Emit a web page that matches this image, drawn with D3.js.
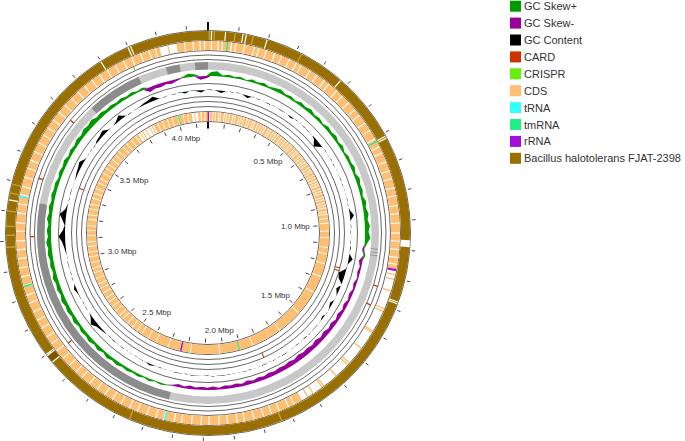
<!DOCTYPE html>
<html>
<head>
<meta charset="utf-8">
<script src="https://cdn.jsdelivr.net/npm/d3@7"></script>
<style>
  body { margin: 0; background: #fff; }
  text { font-family: Arial, "Liberation Sans", sans-serif; }
</style>
</head>
<body>
<svg id="map" width="685" height="441"></svg>
<script>
// genome length in Mbp, GC windows of 25 kb
var genomeLength = 4.17;
var windowSize = 0.025;

var legendNames = ["GC Skew+", "GC Skew-", "GC Content", "CARD", "CRISPR", "CDS", "tRNA", "tmRNA", "rRNA", "Bacillus halotolerans FJAT-2398"];
var legendColors = ["#009900", "#990099", "#000000", "#cc3300", "#66ee11", "#ffbf73", "#33ffff", "#22ee88", "#a010d8", "#997000"];

var tickLabels = ["0.5 Mbp", "1.0 Mbp", "1.5 Mbp", "2.0 Mbp", "2.5 Mbp", "3.0 Mbp", "3.5 Mbp", "4.0 Mbp"];
var tickLabelPositions = [0.5, 1.0, 1.5, 2.0, 2.5, 3.0, 3.5, 4.0];

// Bacillus halotolerans FJAT-2398 ring
var brownGaps = [0.0116, 0.058, 0.116, 0.127, 0.197, 0.475, 0.711, 0.718, 1.274, 1.28, 2.668, 2.695, 2.70, 3.237, 3.799, 3.90, 3.909];
var brownWideGaps = [[1.066, 1.089]];
var brownDark = [[2.670, 2.693]];
var brownLight = [0.004, 0.021, 0.09, 0.15, 0.32, 1.837, 2.35, 3.08, 3.12, 3.15, 3.20, 3.26, 3.29];

// CDS forward strand (outer)
var outerCdsSpans = [[0.000, 1.170], [1.745, 4.000], [4.060, 4.170]];
var outerCdsStripes = [1.188, 1.205, 1.246, 1.312, 1.322, 1.398, 1.404, 1.470, 1.536, 1.545, 1.600, 1.655, 1.662, 1.700, 1.722, 4.030];
var outerCdsGaps = [0.012, 0.036, 0.05, 0.082, 0.097, 0.128, 0.162, 0.178, 0.205, 0.236, 0.262, 0.291, 0.318, 0.337, 0.372, 0.401,
  0.433, 0.452, 0.488, 0.515, 0.547, 0.579, 0.604, 0.637, 0.668, 0.702, 0.733, 0.756, 0.79, 0.823, 0.851, 0.884, 0.912, 0.947,
  0.975, 1.008, 1.043, 1.071, 1.1, 1.128, 1.152, 1.776, 1.797, 1.832, 1.861, 1.889, 1.924, 1.958, 1.983, 2.017, 2.046, 2.081,
  2.109, 2.142, 2.177, 2.203, 2.24, 2.268, 2.301, 2.336, 2.365, 2.398, 2.431, 2.462, 2.494, 2.527, 2.561, 2.589, 2.622, 2.655,
  2.688, 2.719, 2.748, 2.783, 2.814, 2.846, 2.879, 2.908, 2.943, 2.974, 3.006, 3.038, 3.069, 3.1, 3.134, 3.163, 3.197, 3.229,
  3.262, 3.291, 3.324, 3.357, 3.386, 3.419, 3.452, 3.484, 3.513, 3.546, 3.579, 3.611, 3.644, 3.675, 3.706, 3.739, 3.771, 3.802,
  3.834, 3.867, 3.898, 3.931, 3.962, 3.985, 4.088, 4.118, 4.142, 4.158];

// CDS reverse strand (inner)
var innerCdsSpans = [[0.000, 3.760], [3.860, 4.080], [4.115, 4.170]];
var innerCdsStripes = [3.775, 3.79, 3.81, 3.835, 3.85, 4.096];
var innerCdsGaps = [0.008, 0.027, 0.041, 0.06, 0.07, 0.091, 0.104, 0.119, 0.14, 0.152, 0.173, 0.186, 0.201, 0.221, 0.234, 0.254,
  0.266, 0.285, 0.301, 0.318, 0.331, 0.352, 0.364, 0.383, 0.398, 0.412, 0.432, 0.447, 0.464, 0.48, 0.497, 0.51, 0.53, 0.545, 0.559,
  0.579, 0.594, 0.612, 0.626, 0.641, 0.661, 0.676, 0.69, 0.71, 0.725, 0.743, 0.758, 0.772, 0.792, 0.807, 0.821, 0.842, 0.856,
  0.874, 0.889, 0.903, 0.924, 0.938, 0.962, 0.988, 1.032, 1.068, 1.122, 1.158, 1.213, 1.288, 1.382, 1.521, 1.664, 1.832, 2.021,
  2.183, 2.309, 2.382, 2.428, 2.471, 2.502, 2.534, 2.568, 2.603, 2.629, 2.662, 2.693, 2.724, 2.751, 2.783, 2.812, 2.838, 2.871,
  2.903, 2.929, 2.962, 2.994, 3.021, 3.053, 3.078, 3.113, 3.142, 3.168, 3.203, 3.229, 3.262, 3.288, 3.322, 3.351, 3.379, 3.413,
  3.438, 3.472, 3.503, 3.528, 3.562, 3.591, 3.618, 3.652, 3.679, 3.712, 3.743, 3.884, 3.912, 3.941, 3.968, 4.002, 4.031, 4.058,
  4.131, 4.152];

// RNA and other features
var outerTrna = [2.236, 3.255];
var outerTmrna = [0.068, 0.712, 2.94];
var outerRrna = [1.172];
var innerTmrna = [1.91, 4.005];
var innerRrna = [0.002, 2.236];
var crisprMarks = [3.89];
var cardOuter = [1.245, 1.319, 2.685, 3.114, 3.335, 3.583];
var cardInner = [1.215, 1.228, 1.805, 3.349];

// grey band, dark segments
var grayDark = [[1.105, 1.108], [1.118, 1.121], [1.130, 1.133], [2.238, 3.243], [3.672, 3.892], [4.005, 4.059], [4.119, 4.170]];

var gcSkew = [
  0.05, 0.065, 0.015, 0.035, 0.015, 0.03, 0.01, 0.035, 0.02, 0.04,
  0.02, 0.035, 0.05, 0.025, 0.04, 0.02, 0.045, 0.03, 0.05, 0.025,
  0.04, 0.02, 0.045, 0.03, 0.05, 0.025, 0.045, 0.02, 0.04, 0.03,
  0.05, 0.025, 0.055, 0.035, 0.045, 0.025, 0.055, 0.035, 0.06, 0.04,
  0.065, 0.045, 0.07, 0.03, -0.025, 0.025, -0.045, -0.02, -0.035, -0.015,
  -0.04, -0.02, -0.045, -0.025, -0.05, -0.03, -0.055, -0.035, -0.06, -0.04,
  -0.065, -0.045, -0.07, -0.05, -0.065, -0.055, -0.07, -0.05, -0.065, -0.05,
  -0.06, -0.045, -0.06, -0.04, -0.055, -0.035, -0.055, -0.03, -0.05, -0.035,
  -0.045, -0.025, -0.045, -0.03, -0.04, -0.025, -0.045, -0.02, -0.04, -0.015,
  0.01, 0.025, 0.01, 0.03, 0.015, 0.035, 0.02, 0.04, 0.025, 0.045,
  0.03, 0.05, 0.025, 0.05, 0.03, 0.055, 0.035, 0.05, 0.03, 0.055,
  0.035, 0.055, 0.04, 0.06, 0.035, 0.055, 0.04, 0.06, 0.035, 0.055,
  0.04, 0.06, 0.045, 0.065, 0.04, 0.055, 0.035, 0.06, 0.04, 0.055,
  0.035, 0.055, 0.04, 0.05, 0.03, 0.05, 0.035, 0.055, 0.03, 0.05,
  0.035, 0.055, 0.04, 0.065, 0.05, 0.07, 0.045, 0.055, 0.035, 0.045,
  0.03, 0.045, 0.025, 0.04, 0.02, 0.03, -0.06, -0.04, -0.05, -0.03,
  -0.045, -0.02, 0.015, 0.045, 0.03, -0.045, -0.03];

var gcContent = [
  0.006, -0.006, -0.03, 0.003, -0.006, 0.006, -0.003, -0.03, 0.006, -0.006,
  0.003, -0.009, 0.006, -0.003, -0.006, 0.003, -0.02, 0.006, -0.003, 0.006,
  -0.006, 0.003, -0.02, -0.08, -0.006, 0.006, -0.003, 0.006, -0.006, 0.003,
  -0.003, 0.006, -0.006, 0.003, -0.003, 0.006, -0.006, 0.009, 0.05, -0.003,
  0.006, -0.006, 0.003, -0.006, 0.009, -0.003, 0.05, 0.006, -0.009, -0.08,
  -0.06, 0.006, -0.04, -0.006, 0.003, -0.03, -0.006, 0.006, -0.02, 0.003,
  -0.006, -0.003, 0.006, -0.009, 0.003, -0.006, 0.003, -0.003, 0.006, -0.006,
  0.003, -0.006, 0.006, -0.003, 0.003, -0.006, 0.006, -0.003, 0.003, -0.006,
  0.006, -0.003, 0.006, -0.006, 0.003, -0.003, 0.006, -0.006, 0.003, 0.006,
  -0.003, 0.006, -0.006, 0.003, 0.02, -0.003, 0.006, -0.006, 0.003, -0.003,
  0.006, -0.003, 0.009, -0.006, 0.006, 0.02, 0.03, 0.07, 0.02, -0.003,
  0.006, -0.006, 0.003, 0.006, 0.03, -0.003, 0.006, -0.006, 0.003, 0.006,
  -0.003, 0.006, 0.02, 0.04, 0.08, 0.03, 0.006, 0.04, 0.08, 0.02,
  0.003, -0.006, 0.006, 0.003, -0.003, 0.006, 0.02, 0.03, 0.05, 0.006,
  -0.003, 0.006, -0.006, 0.02, 0.03, 0.05, 0.006, -0.003, 0.02, 0.06,
  0.006, -0.006, 0.003, 0.006, 0.02, 0.03, 0.05, 0.006, -0.006, 0.003,
  -0.006, 0.006, -0.02, 0.003, -0.006, -0.03, 0.003];

var svg = d3.select("#map");
var cx = 208, cy = 233;
var g = svg.append("g").attr("transform", "translate(" + cx + "," + cy + ")");
var angle = d3.scaleLinear().domain([0, genomeLength]).range([0, 2 * Math.PI]);
var arc = d3.arc();

var drawSpans = function(spans, r0, r1, color) {
  g.append("g").selectAll("path")
    .data(spans)
    .enter()
    .append("path")
      .attr("d", function(d) {
        return arc({innerRadius: r0, outerRadius: r1, startAngle: angle(d[0]), endAngle: angle(d[1])});
      })
      .attr("fill", color);
}

var drawMarks = function(positions, width, r0, r1, color) {
  drawSpans(positions.map(function(p) { return [p - width / 2, p + width / 2]; }), r0, r1, color);
}

// ring outlines
var ringLines = [202.5, 192.5, 182.5, 178, 173.5, 149.5, 136.5, 131.5, 126.5, 121.5, 111.5];
g.append("g").selectAll("circle")
  .data(ringLines)
  .enter()
  .append("circle")
    .attr("r", function(d) { return d; })
    .attr("fill", "none")
    .attr("stroke", "#555")
    .attr("stroke-width", 0.9);

// outer BLAST ring
drawSpans([[0, genomeLength]], 193, 202, "#997000");
drawSpans(brownDark, 193, 202, "#7a5700");
drawMarks(brownLight, 0.004, 193, 202, "#c9a640");
drawMarks(brownGaps, 0.004, 193, 202, "#ffffff");
drawSpans(brownWideGaps, 193, 202, "#ffffff");

// forward CDS
drawSpans(outerCdsSpans, 183, 192, "#ffbf73");
drawMarks(outerCdsStripes, 0.005, 183, 192, "#ffbf73");
drawMarks(outerCdsGaps, 0.004, 183, 192, "#ffffff");
drawMarks(outerTrna, 0.006, 183, 192, "#33ffff");
drawMarks(outerTmrna, 0.005, 183, 192, "#22ee88");
drawMarks(outerRrna, 0.008, 183, 192, "#a010d8");

// CRISPR and CARD
drawMarks(crisprMarks, 0.005, 178.5, 182, "#66ee11");
drawMarks(cardOuter, 0.005, 173.5, 178, "#cc3300");
drawMarks(cardInner, 0.005, 131.5, 136.5, "#cc3300");

// grey band
drawSpans([[0, genomeLength]], 163.5, 171, "#c8c8c8");
drawSpans(grayDark, 163.5, 171, "#8c8c8c");

// GC skew
var skewBase = 157;
var skewScale = d3.scaleLinear().domain([-0.07, 0.07]).range([-5.5, 5.5]);
var skewPoints = gcSkew.map(function(v, i) { return {pos: (i + 0.5) * windowSize, v: v}; });
skewPoints.push({pos: genomeLength + 0.5 * windowSize, v: gcSkew[0]});
var skewArea = function(sign) {
  return d3.areaRadial()
    .angle(function(d) { return angle(d.pos); })
    .innerRadius(skewBase)
    .outerRadius(function(d) { return skewBase + skewScale(sign > 0 ? Math.max(d.v, 0) : Math.min(d.v, 0)); });
}
g.append("path").attr("d", skewArea(1)(skewPoints)).attr("fill", "#009900");
g.append("path").attr("d", skewArea(-1)(skewPoints)).attr("fill", "#990099");

// GC content
var gcBase = 143;
var gcScale = d3.scaleLinear().domain([-0.08, 0.08]).range([-6.5, 6.5]);
var gcPoints = gcContent.map(function(v, i) { return {pos: (i + 0.5) * windowSize, v: v}; });
gcPoints.push({pos: genomeLength + 0.5 * windowSize, v: gcContent[0]});
var gcArea = d3.areaRadial()
  .angle(function(d) { return angle(d.pos); })
  .innerRadius(gcBase)
  .outerRadius(function(d) { return gcBase + gcScale(d.v); });
g.append("path").attr("d", gcArea(gcPoints)).attr("fill", "#000");

// reverse CDS
drawSpans(innerCdsSpans, 112, 121, "#ffbf73");
drawMarks(innerCdsStripes, 0.006, 112, 121, "#ffbf73");
drawMarks(innerCdsGaps, 0.005, 112, 121, "#ffffff");
drawMarks(innerTmrna, 0.006, 112, 121, "#22ee88");
drawMarks(innerRrna, 0.008, 112, 121, "#a010d8");

// ticks
var tickPositions = d3.range(1, 42).map(function(i) { return i / 10; });
var drawTicks = function(r0, r1, bigR0, bigR1) {
  var t = g.append("g");
  t.selectAll("line")
    .data(tickPositions)
    .enter()
    .append("line")
      .attr("x1", function(d) { return r0 * Math.sin(angle(d)); })
      .attr("y1", function(d) { return -r0 * Math.cos(angle(d)); })
      .attr("x2", function(d) { return r1 * Math.sin(angle(d)); })
      .attr("y2", function(d) { return -r1 * Math.cos(angle(d)); })
      .attr("stroke", "#333")
      .attr("stroke-width", 0.9);
  t.append("line")
    .attr("x1", 0).attr("y1", -bigR0)
    .attr("x2", 0).attr("y2", -bigR1)
    .attr("stroke", "#000")
    .attr("stroke-width", 2);
}
drawTicks(105.5, 109.5, 104.5, 111);
drawTicks(204.5, 208, 203, 211);

// tick labels inside the inner ring
var labelR = 102;
g.append("g").selectAll("text")
  .data(tickLabelPositions)
  .enter()
  .append("text")
    .text(function(d, i) { return tickLabels[i]; })
    .attr("font-size", "8px")
    .attr("fill", "#333")
    .each(function(d) {
      var a = angle(d);
      var w = this.getComputedTextLength();
      var h = 8;
      var px = labelR * Math.sin(a), py = -labelR * Math.cos(a);
      d3.select(this)
        .attr("x", px - w * (1 + Math.sin(a)) / 2)
        .attr("y", py - h * (1 - Math.cos(a)) / 2 + h * 0.8);
    });

// legend
var legend = svg.append("g").attr("transform", "translate(510,0)");
var rows = legend.selectAll("g")
  .data(legendNames)
  .enter()
  .append("g")
    .attr("transform", function(d, i) { return "translate(0," + (6.2 + i * 16.9) + ")"; });
rows.append("rect")
  .attr("x", 0).attr("y", -5.5)
  .attr("width", 11).attr("height", 11)
  .attr("fill", function(d, i) { return legendColors[i]; });
rows.append("text")
  .attr("x", 14).attr("y", 4)
  .attr("font-size", "11px")
  .attr("fill", "#333")
  .text(function(d) { return d; });
</script>
</body>
</html>
